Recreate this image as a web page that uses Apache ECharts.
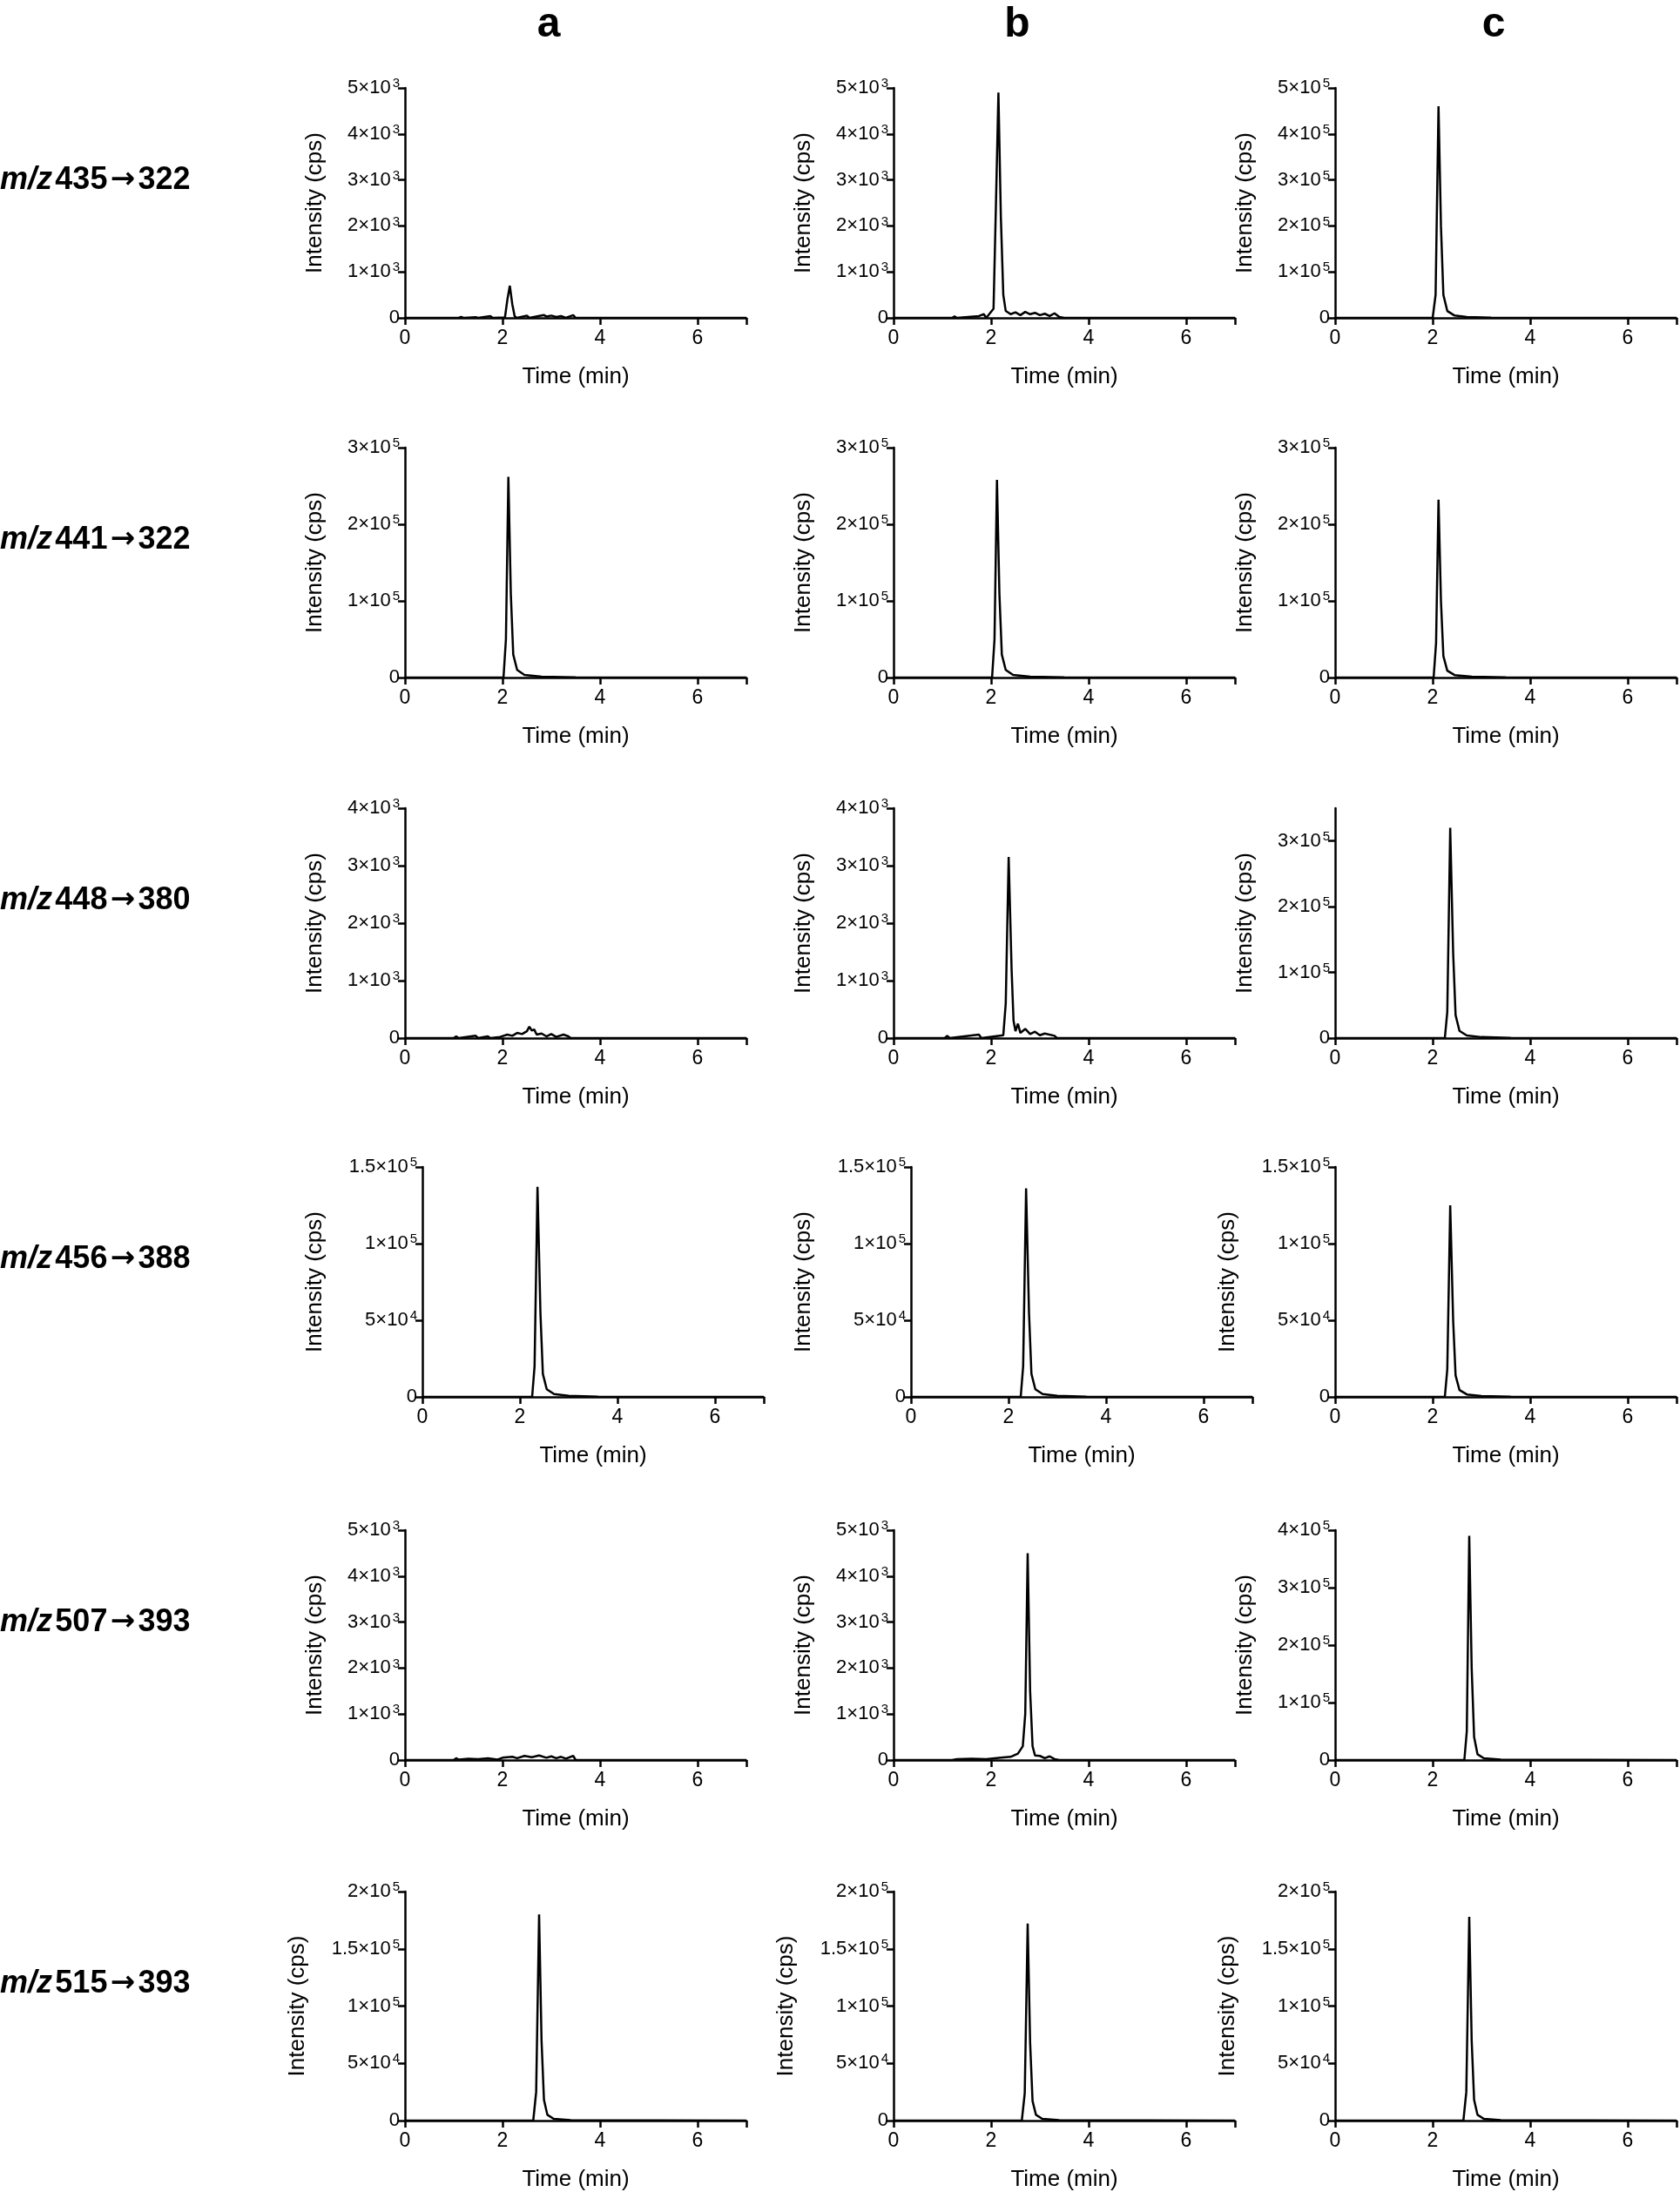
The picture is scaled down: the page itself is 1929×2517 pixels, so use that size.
<!DOCTYPE html>
<html><head><meta charset="utf-8">
<script src="https://cdn.jsdelivr.net/npm/echarts@6/dist/echarts.min.js"></script>
<style>html,body{margin:0;padding:0;background:#fff}#c{width:1929px;height:2517px}</style>
</head><body><div id="c"></div>
<script>
const colLabels = ['a','b','c'];
const rowLabels = [['435','322'],['441','322'],['448','380'],['456','388'],['507','393'],['515','393']];
const yMax = [[5000,5000,500000],[300000,300000,300000],[4000,4000,350000],[150000,150000,150000],[5000,5000,400000],[200000,200000,200000]];
const yInt = [[1000,1000,100000],[100000,100000,100000],[1000,1000,100000],[50000,50000,50000],[1000,1000,100000],[50000,50000,50000]];

// traces: [time(min), intensity(cps)]
const r1a = [[0,0],[1.1,0],[1.15,20],[1.2,0],[1.45,15],[1.5,0],[1.75,40],[1.8,0],[2.05,10],[2.1,400],[2.15,700],[2.2,300],[2.25,30],[2.3,0],[2.5,50],[2.55,0],[2.85,60],[2.9,30],[3.0,50],[3.1,20],[3.2,40],[3.3,0],[3.45,60],[3.5,0],[7,0]];
const r1b = [[0,0],[1.2,0],[1.25,30],[1.3,0],[1.75,40],[1.85,80],[1.9,0],[2.05,200],[2.1,2500],[2.15,4900],[2.2,2200],[2.25,500],[2.3,150],[2.4,80],[2.5,120],[2.6,60],[2.7,130],[2.8,80],[2.9,110],[3.0,60],[3.1,90],[3.2,40],[3.3,100],[3.4,20],[3.5,0],[7,0]];
const r1c = [[0,0],[2.0,0],[2.06,50000],[2.12,460000],[2.17,200000],[2.22,50000],[2.3,15000],[2.45,5000],[2.7,2000],[3.2,500],[7,0]];
const r2a = [[0,0],[2.02,0],[2.07,50000],[2.12,262000],[2.17,110000],[2.22,30000],[2.3,10000],[2.45,3500],[2.8,1200],[3.5,300],[7,0]];
const r2b = [[0,0],[2.02,0],[2.07,50000],[2.12,258000],[2.17,110000],[2.22,30000],[2.3,10000],[2.45,3500],[2.8,1200],[3.5,300],[7,0]];
const r2c = [[0,0],[2.02,0],[2.07,45000],[2.12,232000],[2.17,100000],[2.22,28000],[2.3,9000],[2.45,3200],[2.8,1100],[3.5,300],[7,0]];
const r3a = [[0,0],[1.0,0],[1.05,30],[1.1,0],[1.45,40],[1.5,0],[1.7,30],[1.75,0],[1.95,20],[2.1,60],[2.2,40],[2.3,90],[2.4,70],[2.5,120],[2.55,200],[2.6,130],[2.65,150],[2.7,60],[2.8,80],[2.9,30],[3.0,70],[3.1,20],[3.25,60],[3.35,30],[3.4,0],[7,0]];
const r3b = [[0,0],[1.05,0],[1.1,40],[1.15,0],[1.75,60],[1.8,0],[2.25,50],[2.3,600],[2.36,3150],[2.42,1200],[2.46,300],[2.5,120],[2.55,250],[2.6,90],[2.7,160],[2.8,70],[2.9,110],[3.0,50],[3.1,80],[3.3,40],[3.35,0],[7,0]];
const r3c = [[0,0],[2.25,0],[2.3,40000],[2.36,320000],[2.42,130000],[2.47,35000],[2.55,11000],[2.7,4000],[3.0,1500],[3.6,400],[7,0]];
const r4a = [[0,0],[2.25,0],[2.3,20000],[2.36,137000],[2.42,55000],[2.47,15000],[2.55,5000],[2.7,1800],[3.0,700],[3.6,200],[7,0]];
const r4b = [[0,0],[2.25,0],[2.3,20000],[2.36,136000],[2.42,55000],[2.47,15000],[2.55,5000],[2.7,1800],[3.0,700],[3.6,200],[7,0]];
const r4c = [[0,0],[2.25,0],[2.3,18000],[2.36,125000],[2.42,50000],[2.47,14000],[2.55,4500],[2.7,1600],[3.0,600],[3.6,200],[7,0]];
const r5a = [[0,0],[1.0,0],[1.05,40],[1.1,10],[1.3,30],[1.5,20],[1.7,40],[1.9,10],[2.0,50],[2.2,70],[2.3,40],[2.45,90],[2.6,60],[2.75,100],[2.9,50],[3.0,80],[3.1,40],[3.2,70],[3.3,30],[3.45,90],[3.5,0],[7,0]];
const r5b = [[0,0],[1.2,0],[1.3,20],[1.6,30],[1.9,20],[2.2,50],[2.4,70],[2.55,140],[2.65,300],[2.7,1000],[2.75,4500],[2.8,1500],[2.85,300],[2.9,100],[3.0,90],[3.1,40],[3.2,80],[3.3,20],[3.4,0],[7,0]];
const r5c = [[0,0],[2.65,0],[2.7,50000],[2.75,390000],[2.8,160000],[2.85,40000],[2.92,10000],[3.05,3000],[3.4,800],[7,0]];
const r6a = [[0,0],[2.63,0],[2.69,25000],[2.75,180000],[2.8,70000],[2.85,18000],[2.92,5000],[3.05,1500],[3.4,400],[7,0]];
const r6b = [[0,0],[2.63,0],[2.69,24000],[2.75,172000],[2.8,68000],[2.85,17000],[2.92,5000],[3.05,1500],[3.4,400],[7,0]];
const r6c = [[0,0],[2.63,0],[2.69,25000],[2.75,178000],[2.8,70000],[2.85,18000],[2.92,5000],[3.05,1500],[3.4,400],[7,0]];
const traces = [[r1a,r1b,r1c],[r2a,r2b,r2c],[r3a,r3b,r3c],[r4a,r4b,r4c],[r5a,r5b,r5c],[r6a,r6b,r6c]];
const xTicks = [0,2,4,6];

const rowTop = [101,514,928,1340,1757,2172];
const colLeft = [465,1026,1533];
const FONT = 'Liberation Sans';

function fmtY(v){
  if (v === 0) return '0';
  const e = Math.floor(Math.log10(v) + 1e-9);
  let m = v / Math.pow(10, e);
  m = Math.round(m*10)/10;
  return '{n|' + m + '×10}{s|' + e + '}';
}

const grids=[], xAxes=[], yAxes=[], series=[], graphic=[];
for (let r=0;r<6;r++){
  for (let c=0;c<3;c++){
    const i = grids.length;
    const left = (r===3 && c<2) ? colLeft[c]+20 : colLeft[c];
    const wide = (yMax[r][c]===150000 || yMax[r][c]===200000);
    grids.push({left:left, top:rowTop[r], width:392, height:264});
    xAxes.push({gridIndex:i, type:'value', min:0, max:7, interval:2,
      axisLine:{lineStyle:{color:'#000',width:2.5}}, axisTick:{length:8,lineStyle:{color:'#000',width:2.5}},
      splitLine:{show:false}, axisLabel:{color:'#000',fontFamily:FONT,fontSize:23,margin:12,
        formatter:v=>xTicks.includes(v)?String(v):''},
      name:'Time (min)', nameLocation:'middle', nameGap:55, nameTextStyle:{color:'#000',fontFamily:FONT,fontSize:26}});
    yAxes.push({gridIndex:i, type:'value', min:0, max:yMax[r][c], interval:yInt[r][c],
      axisLine:{show:true,lineStyle:{color:'#000',width:2.5}}, axisTick:{show:true,length:8,lineStyle:{color:'#000',width:2.5}},
      splitLine:{show:false}, axisLabel:{color:'#000',fontFamily:FONT,fontSize:22,margin:6,showMaxLabel:(yMax[r][c]%yInt[r][c]===0),
        formatter:fmtY, rich:{n:{fontFamily:FONT,fontSize:22,color:'#000'},s:{fontFamily:FONT,fontSize:15,color:'#000',verticalAlign:'top',padding:[0,0,10,2]}}},
      name:'Intensity (cps)', nameLocation:'middle', nameGap: wide?110:90,
      nameTextStyle:{color:'#000',fontFamily:FONT,fontSize:26}});
    series.push({type:'line', xAxisIndex:i, yAxisIndex:i, data:traces[r][c], showSymbol:false, symbol:'none',
      lineStyle:{color:'#000',width:2.5}, animation:false});
  }
  graphic.push({type:'text', left:0, top:rowTop[r]+88, style:{
    text:'{i|m/z} {b|'+rowLabels[r][0]+'} {a|→} {b|'+rowLabels[r][1]+'}',
    rich:{i:{fontFamily:FONT,fontSize:36,fontWeight:'bold',fontStyle:'italic',fill:'#000'},
          b:{fontFamily:FONT,fontSize:36,fontWeight:'bold',fill:'#000'},
          a:{fontFamily:'DejaVu Sans',fontSize:34,fontWeight:'bold',fill:'#000'}}}});
}
const colX=[630,1168,1715];
for (let c=0;c<3;c++) graphic.push({type:'text', x:colX[c], y:29, style:{text:colLabels[c], fontFamily:FONT, fontSize:48, fontWeight:'bold', fill:'#000', align:'center', verticalAlign:'middle'}});

const chart = echarts.init(document.getElementById('c'));
chart.setOption({animation:false, backgroundColor:'#fff', grid:grids, xAxis:xAxes, yAxis:yAxes, series:series, graphic:graphic});
</script></body></html>
